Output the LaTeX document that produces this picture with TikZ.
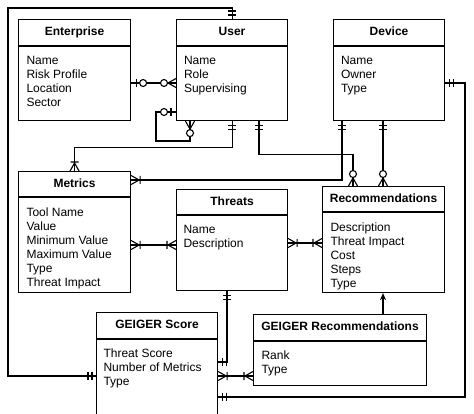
\documentclass[tikz,border=0pt]{standalone}
\usepackage{fontspec}
\setmainfont{Liberation Sans}
\usetikzlibrary{positioning,calc,arrows.meta,decorations.markings}

\newcommand{\mkone}{\draw (4pt,-4pt) -- (4pt,4pt) (8pt,-4pt) -- (8pt,4pt);}
\newcommand{\mkmany}{\draw (0pt,-4.5pt) -- (8pt,0pt) -- (0pt,4.5pt) (9pt,-4pt) -- (9pt,4pt);}
\newcommand{\mkzone}{\draw (5pt,-4pt) -- (5pt,4pt); \draw[fill=white] (12pt,0pt) circle (3.5pt);}
\newcommand{\mkzmany}{\draw (0pt,-4.5pt) -- (8pt,0pt) -- (0pt,4.5pt); \draw[fill=white] (12pt,0pt) circle (3.5pt);}

\begin{document}
\begin{tikzpicture}[x=1pt,y=-1pt,line width=1.1pt,
    entity/.style={draw,anchor=north west,inner sep=0pt},
    title/.style={font=\bfseries\fontsize{12}{14}\selectfont,text height=9pt,text depth=2.5pt,inner sep=0pt},
    attrs/.style={anchor=north west,align=left,inner sep=0pt,font=\fontsize{12}{14}\selectfont},
    start mark/.style={postaction={decorate,decoration={markings,mark=at position 0 with {\csname mk#1\endcsname}}}},
    end mark/.style={postaction={decorate,decoration={markings,mark=at position 1 with {\begin{scope}[xscale=-1]\csname mk#1\endcsname\end{scope}}}}}]

  \useasboundingbox (0,0) rectangle (474,414);
  \clip (0,0) rectangle (474,414);

  \node[entity,minimum width=112pt,minimum height=101pt] (ent) at (18,19) {};
  \node[title] (ent t) at ([shift={(0,13.5)}]ent.north) {Enterprise};
  \draw ([shift={(0,27)}]ent.north west) -- ([shift={(0,27)}]ent.north east);
  \node[attrs] (ent a) at ([shift={(8,36.3)}]ent.north west) {Name\\Risk Profile\\Location\\Sector};

  \node[entity,minimum width=111pt,minimum height=101pt] (user) at (176,19) {};
  \node[title] (user t) at ([shift={(0,13.5)}]user.north) {User};
  \draw ([shift={(0,27)}]user.north west) -- ([shift={(0,27)}]user.north east);
  \node[attrs] (user a) at ([shift={(7.5,36.3)}]user.north west) {Name\\Role\\Supervising};

  \node[entity,minimum width=111pt,minimum height=101pt] (dev) at (333,19) {};
  \node[title] (dev t) at ([shift={(0,13.5)}]dev.north) {Device};
  \draw ([shift={(0,27)}]dev.north west) -- ([shift={(0,27)}]dev.north east);
  \node[attrs] (dev a) at ([shift={(7.5,36.3)}]dev.north west) {Name\\Owner\\Type};

  \node[entity,minimum width=112pt,minimum height=121pt] (met) at (18,171) {};
  \node[title] (met t) at ([shift={(0,13)}]met.north) {Metrics};
  \draw ([shift={(0,26)}]met.north west) -- ([shift={(0,26)}]met.north east);
  \node[attrs] (met a) at ([shift={(8,35.8)}]met.north west) {Tool Name\\Value\\Minimum Value\\Maximum Value\\Type\\Threat Impact};

  \node[entity,minimum width=111pt,minimum height=101pt] (thr) at (176,189) {};
  \node[title] (thr t) at ([shift={(0,13)}]thr.north) {Threats};
  \draw ([shift={(0,26)}]thr.north west) -- ([shift={(0,26)}]thr.north east);
  \node[attrs] (thr a) at ([shift={(7,35.8)}]thr.north west) {Name\\Description};

  \node[entity,minimum width=122pt,minimum height=106pt] (rec) at (322,186) {};
  \node[title] (rec t) at ([shift={(0,13)}]rec.north) {Recommendations};
  \draw ([shift={(0,26)}]rec.north west) -- ([shift={(0,26)}]rec.north east);
  \node[attrs] (rec a) at ([shift={(8,35.8)}]rec.north west) {Description\\Threat Impact\\Cost\\Steps\\Type};

  \node[entity,minimum width=121pt,minimum height=110pt] (score) at (96,312) {};
  \node[title] (score t) at ([shift={(0,13.5)}]score.north) {GEIGER Score};
  \draw ([shift={(0,27)}]score.north west) -- ([shift={(0,27)}]score.north east);
  \node[attrs] (score a) at ([shift={(7,36.3)}]score.north west) {Threat Score\\Number of Metrics\\Type};

  \node[entity,minimum width=173pt,minimum height=71pt] (grec) at (253,314) {};
  \node[title] (grec t) at ([shift={(0,13.5)}]grec.north) {GEIGER Recommendations};
  \draw ([shift={(0,27)}]grec.north west) -- ([shift={(0,27)}]grec.north east);
  \node[attrs] (grec a) at ([shift={(8,36.3)}]grec.north west) {Rank\\Type};

  % relations
  \draw[start mark=one,end mark=one] (user.north) |- (8,8) |- (score.west |- 0,376);
  \draw[start mark=zone,end mark=zmany] (ent.east |- 0,83) -- (user.west |- 0,83);
  \draw[start mark=zone,end mark=zmany] (user.west |- 0,112) -| (156,141) -| (user.south -| 190,0);
  \draw[start mark=one,end mark=many] (user.south) -- ++(0,26) -| (met.north);
  \draw[start mark=one,end mark=zmany] (user.south -| 259,0) -- ++(0,33) -| (rec.north -| 353,0);
  \draw[start mark=one,end mark=many] (dev.south -| 342,0) |- (met.east |- 0,180);
  \draw[start mark=one,end mark=zmany] (dev.south -| 383,0) -- (rec.north -| 383,0);
  \draw[start mark=one,end mark=one] (dev.east |- 0,83) -| (465,397) -- (score.east |- 0,397);
  \draw[start mark=many,end mark=many] (met.east |- 0,245) -- (thr.west |- 0,245);
  \draw[start mark=many,end mark=many] (thr.east |- 0,243) -- (rec.west |- 0,243);
  \draw[start mark=one,end mark=one] (thr.south -| 227,0) |- (score.east |- 0,362);
  \draw[start mark=many,end mark=many] (score.east |- 0,376) -- (grec.west |- 0,376);
  \draw[-{Stealth[length=7pt,width=6pt]}] (grec.north -| 383,0) -- (rec.south -| 383,0);
\end{tikzpicture}
\end{document}
